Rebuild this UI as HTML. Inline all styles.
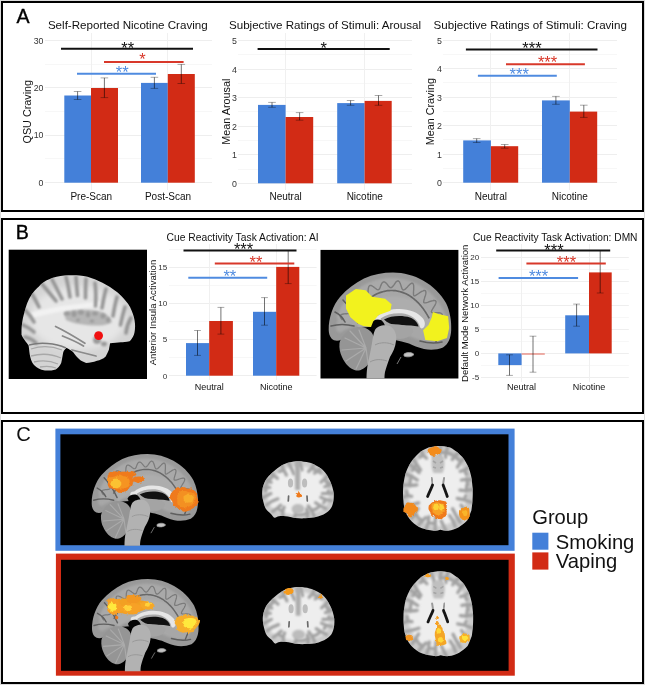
<!DOCTYPE html>
<html><head><meta charset="utf-8"><title>Figure</title>
<style>
html,body{margin:0;padding:0;background:#fff;}
body{width:645px;height:685px;overflow:hidden;}
svg{display:block;}
text{font-family:'Liberation Sans', Arial, sans-serif;}
</style></head><body>
<svg width="645" height="685" viewBox="0 0 645 685" font-family="'Liberation Sans', Arial, sans-serif"><defs>
<radialGradient id="hot" cx="0.45" cy="0.45" r="0.6"><stop offset="0" stop-color="#ffe23a"/><stop offset="0.55" stop-color="#ffb020"/><stop offset="1" stop-color="#f57a14"/></radialGradient>
<radialGradient id="hot2" cx="0.5" cy="0.5" r="0.6"><stop offset="0" stop-color="#ffdd30"/><stop offset="0.6" stop-color="#ffc020"/><stop offset="1" stop-color="#f59a18"/></radialGradient>
<filter id="bl04" x="-20%" y="-20%" width="140%" height="140%"><feGaussianBlur stdDeviation="0.4"/></filter>
<filter id="rough" x="-20%" y="-20%" width="140%" height="140%" color-interpolation-filters="sRGB"><feTurbulence type="fractalNoise" baseFrequency="0.45" numOctaves="2" seed="3" result="n"/><feDisplacementMap in="SourceGraphic" in2="n" scale="2.6" xChannelSelector="R" yChannelSelector="G" result="d"/><feGaussianBlur in="d" stdDeviation="0.35"/></filter>
<filter id="bl05" x="-20%" y="-20%" width="140%" height="140%"><feGaussianBlur stdDeviation="0.5"/></filter>
<filter id="bl07" x="-20%" y="-20%" width="140%" height="140%"><feGaussianBlur stdDeviation="0.7"/></filter>
<filter id="bl1" x="-20%" y="-20%" width="140%" height="140%"><feGaussianBlur stdDeviation="1"/></filter>
<filter id="bl15" x="-30%" y="-30%" width="160%" height="160%"><feGaussianBlur stdDeviation="1.5"/></filter>
<filter id="bl2" x="-30%" y="-30%" width="160%" height="160%"><feGaussianBlur stdDeviation="3"/></filter>

<clipPath id="medclip"><path d="M328.7,330 C328.5,318 333,305 340,297 C347,289 355,283 364,278.5 C373,274.5 383,272.6 393,272.6 C404,272.8 414,275.5 423,280.5 C433,286 441,294 446,303 C450,311 451.6,321 451.2,330 C450.8,338 448.5,344 443,347.5 C437,350 430,350.3 424,349 C418,347.5 413,345.5 409,343.5 C404,342 399,341 395,340 L390,334 C386,330 381,327.5 376,327 C369,326.5 362,327.5 356,329.5 C350,331.5 345,335 341.5,339.5 C338,341.5 334,341 331.5,338.5 C329.5,336 328.8,333 328.7,330 Z"/></clipPath>
<g id="med">
<path d="M328.7,330 C328.5,318 333,305 340,297 C347,289 355,283 364,278.5 C373,274.5 383,272.6 393,272.6 C404,272.8 414,275.5 423,280.5 C433,286 441,294 446,303 C450,311 451.6,321 451.2,330 C450.8,338 448.5,344 443,347.5 C437,350 430,350.3 424,349 C418,347.5 413,345.5 409,343.5 C404,342 399,341 395,340 L390,334 C386,330 381,327.5 376,327 C369,326.5 362,327.5 356,329.5 C350,331.5 345,335 341.5,339.5 C338,341.5 334,341 331.5,338.5 C329.5,336 328.8,333 328.7,330 Z" fill="#999999"/>
<g clip-path="url(#medclip)">
<path d="M336,330 C337,314 346,299 360,290 C374,282 392,280 408,284 C424,289 436,299 441,313 C444,322 443,334 438,341 C430,343 421,341 414,338 C404,333 392,331 380,323 C366,322 352,325 340,333 Z" fill="#a7a7a7" filter="url(#bl1)"/>
<path d="M356,314 C364,303 377,297 392,296.5 C408,296.5 421,302 429,312 C433,318 434,325 432,331 C427,331 423,328 420,324 C412,316 400,313 388,314.5 C376,316 366,322 358,329 Z" fill="#adadad" filter="url(#bl1)"/>
<path d="M336.3,318.1 L337.4,315.2 L338.5,312.4 L339.8,309.7 L341.3,307.0 L342.9,304.4 L344.6,301.9 L346.4,299.5 L348.4,297.2 L350.5,295.0 L352.7,292.9 L355.0,290.9 L357.4,289.1 L359.9,287.4 L362.5,285.8 L365.2,284.3 L367.9,283.0 L370.7,281.9 L373.6,280.8 L376.5,280.0 L379.4,279.3 L382.4,278.7 L385.4,278.3 L388.5,278.1 L391.5,278.0 L394.5,278.1 L397.6,278.3 L400.6,278.7 L403.6,279.3 L406.5,280.0 L409.4,280.8 L412.3,281.9 L415.1,283.0 L417.8,284.3 L420.5,285.8 L423.1,287.4 L425.6,289.1 L428.0,290.9 L430.3,292.9 L432.5,295.0 L434.6,297.2 L436.6,299.5 L438.4,301.9 L440.1,304.4 L441.7,307.0 L443.2,309.7 L444.5,312.4 L445.6,315.2 L446.7,318.1 L434.3,322.1 L433.5,319.9 L432.6,317.7 L431.6,315.6 L430.5,313.5 L429.2,311.5 L427.9,309.5 L426.5,307.7 L424.9,305.9 L423.3,304.2 L421.6,302.6 L419.8,301.0 L418.0,299.6 L416.0,298.3 L414.0,297.0 L411.9,295.9 L409.8,294.9 L407.6,294.0 L405.4,293.2 L403.1,292.5 L400.9,292.0 L398.5,291.6 L396.2,291.2 L393.9,291.1 L391.5,291.0 L389.1,291.1 L386.8,291.2 L384.5,291.6 L382.1,292.0 L379.9,292.5 L377.6,293.2 L375.4,294.0 L373.2,294.9 L371.1,295.9 L369.0,297.0 L367.0,298.3 L365.0,299.6 L363.2,301.0 L361.4,302.6 L359.7,304.2 L358.1,305.9 L356.5,307.7 L355.1,309.5 L353.8,311.5 L352.5,313.5 L351.4,315.6 L350.4,317.7 L349.5,319.9 L348.7,322.1 Z" fill="#a9a9a9" filter="url(#bl1)"/>
<path d="M342.5,320.1 L342.0,319.4 L341.4,318.8 L341.0,318.1 L340.6,317.5 L340.3,316.9 L340.2,316.3 L340.3,315.8 L340.4,315.4 L340.8,315.0 L341.2,314.7 L341.8,314.4 L342.5,314.2 L343.3,314.0 L344.1,313.9 L345.0,313.8 L345.9,313.8 L346.7,313.7 L347.5,313.6 L348.2,313.5 L348.8,313.3 L349.2,313.1 L349.6,312.8 L349.8,312.4 L349.9,312.0 L349.8,311.4 L349.6,310.8 L349.4,310.2 L349.1,309.5 L348.7,308.7 L348.3,308.0 L348.0,307.2 L347.7,306.5 L347.5,305.7 L347.3,305.1 L347.3,304.5 L347.3,303.9 L347.5,303.4 L347.8,303.1 L348.2,302.8 L348.7,302.6 L349.3,302.4 L350.0,302.4 L350.7,302.4 L351.5,302.5 L352.3,302.6 L353.1,302.7 L353.9,302.8 L354.7,302.8 L355.3,302.8 L355.9,302.8 L356.4,302.7 L356.8,302.5 L357.1,302.2 L357.3,301.8 L357.4,301.3 L357.4,300.7 L357.4,300.0 L357.3,299.3 L357.2,298.5 L357.0,297.7 L356.8,296.8 L356.6,295.9 L356.5,295.1 L356.5,294.3 L356.5,293.6 L356.7,293.0 L357.0,292.6 L357.4,292.3 L357.8,292.1 L358.4,292.1 L359.1,292.2 L359.9,292.4 L360.7,292.8 L361.5,293.1 L362.3,293.6 L363.2,294.0 L364.0,294.4 L364.7,294.8 L365.4,295.1 L366.0,295.3 L366.6,295.3 L367.0,295.3 L367.4,295.0 L367.6,294.7 L367.8,294.2 L368.0,293.6 L368.0,292.8 L368.1,292.0 L368.1,291.1 L368.1,290.1 L368.2,289.3 L368.3,288.5 L368.5,287.7 L368.7,287.0 L368.9,286.5 L369.2,286.0 L369.6,285.7 L370.1,285.5 L370.6,285.4 L371.1,285.5 L371.7,285.7 L372.3,286.1 L373.0,286.5 L373.6,286.9 L374.3,287.5 L375.0,288.0 L375.6,288.5 L376.2,288.9 L376.8,289.3 L377.3,289.6 L377.8,289.7 L378.2,289.7 L378.6,289.6 L379.0,289.4 L379.3,289.0 L379.7,288.5 L379.9,287.9 L380.2,287.2 L380.5,286.4 L380.8,285.6 L381.1,284.9 L381.4,284.2 L381.8,283.5 L382.1,283.0 L382.5,282.5 L383.0,282.2 L383.4,282.0 L383.9,281.9 L384.4,282.0 L384.9,282.2 L385.4,282.5 L385.9,282.9 L386.4,283.5 L387.0,284.0 L387.5,284.7 L388.0,285.3 L388.4,285.9 L388.9,286.4 L389.4,286.9 L389.8,287.3 L390.2,287.5 L390.7,287.7 L391.1,287.7 L391.5,287.5 L391.9,287.2 L392.4,286.9 L392.8,286.4 L393.3,285.8 L393.7,285.2 L394.2,284.6 L394.7,283.8 L395.2,283.0 L395.7,282.3 L396.2,281.7 L396.8,281.3 L397.3,281.0 L397.8,280.9 L398.3,280.9 L398.7,281.2 L399.2,281.6 L399.6,282.1 L399.9,282.8 L400.3,283.6 L400.6,284.5 L400.9,285.4 L401.2,286.3 L401.4,287.1 L401.7,287.9 L402.0,288.6 L402.3,289.2 L402.6,289.6 L403.0,289.9 L403.4,290.0 L403.8,289.9 L404.3,289.7 L404.9,289.4 L405.5,288.9 L406.1,288.3 L406.7,287.7 L407.4,287.0 L408.2,286.1 L409.0,285.3 L409.7,284.5 L410.5,283.9 L411.1,283.5 L411.8,283.2 L412.3,283.2 L412.8,283.4 L413.1,283.8 L413.4,284.4 L413.6,285.2 L413.7,286.1 L413.7,287.2 L413.7,288.3 L413.7,289.5 L413.6,290.7 L413.5,291.8 L413.5,292.9 L413.5,293.8 L413.5,294.6 L413.7,295.2 L413.9,295.6 L414.3,295.8 L414.7,295.8 L415.3,295.6 L416.0,295.2 L416.8,294.7 L417.6,294.2 L418.6,293.5 L419.5,292.8 L420.5,292.2 L421.4,291.6 L422.3,291.1 L423.2,290.8 L423.9,290.5 L424.6,290.5 L425.1,290.6 L425.5,290.9 L425.7,291.4 L425.9,292.0 L425.9,292.8 L425.8,293.7 L425.6,294.7 L425.3,295.8 L424.9,296.8 L424.6,297.9 L424.3,299.0 L424.0,299.9 L423.8,300.8 L423.7,301.5 L423.7,302.1 L423.8,302.5 L424.1,302.8 L424.6,302.9 L425.1,302.9 L425.9,302.8 L426.7,302.6 L427.7,302.3 L428.7,301.9 L429.8,301.5 L430.8,301.2 L431.9,300.9 L432.9,300.7 L433.7,300.5 L434.5,300.5 L435.2,300.6 L435.6,300.9 L435.9,301.3 L436.1,301.8 L436.0,302.4 L435.8,303.2 L435.5,304.0 L435.1,304.9 L434.5,305.9 L433.9,306.8 L433.3,307.8 L432.8,308.7 L432.3,309.5 L431.9,310.3 L431.6,311.0 L431.4,311.5 L431.5,312.0 L431.7,312.3 L432.1,312.6 L432.6,312.7 L433.3,312.8 L434.2,312.8 L435.2,312.8 L436.3,312.7 L437.4,312.6 L438.3,312.7 L439.1,312.8 L439.9,312.9 L440.6,313.1 L441.2,313.4 L441.6,313.7 L442.0,314.1 L442.2,314.5 L442.2,315.0 L442.1,315.6" stroke="#7b7b7b" stroke-width="1.4" fill="none" stroke-linejoin="round" filter="url(#bl07)"/>
<path d="M353.8,318.4 L354.5,317.1 L355.2,315.9 L355.9,314.6 L356.7,313.4 L357.4,312.2 L358.3,310.9 L359.1,309.7 L359.9,308.6 L360.8,307.4 L361.7,306.2 L362.7,305.1 L363.7,304.0 L364.7,302.9 L365.8,301.8 L366.8,300.8 L368.0,299.8 L369.1,298.8 L370.4,297.9 L371.6,297.0 L372.9,296.1 L374.2,295.3 L375.6,294.5 L377.0,293.8 L378.4,293.2 L379.9,292.6 L381.4,292.1 L382.9,291.7 L384.4,291.3 L386.0,291.0 L387.5,290.7 L389.1,290.6 L390.7,290.5 L392.3,290.5 L393.9,290.6 L395.5,290.7 L397.0,291.0 L398.6,291.3 L400.1,291.7 L401.6,292.1 L403.1,292.6 L404.6,293.2 L406.0,293.8 L407.4,294.5 L408.8,295.3 L410.1,296.1 L411.4,297.0 L412.6,297.9 L413.9,298.8 L415.0,299.8 L416.2,300.8 L417.2,301.8 L418.3,302.9 L419.3,304.0 L420.3,305.1 L421.3,306.2 L422.2,307.4 L423.1,308.6 L423.9,309.7 L424.7,310.9 L425.6,312.2 L426.3,313.4 L427.1,314.6 L427.8,315.9 L428.5,317.1 L429.2,318.4" stroke="#676767" stroke-width="1.7" fill="none" filter="url(#bl05)"/>
<g stroke="#5e5e5e" stroke-width="1.6" fill="none" stroke-linecap="round" filter="url(#bl07)">
<path d="M343,300 C349,306 354,314 358,323"/>
<path d="M331,326 C338,324 346,324 354,326"/>
<path d="M335,312 C339,314 343,318 345,322"/>
<path d="M446,326 C441,330 438,336 436,342"/>
<path d="M420,341 C427,343 434,344 442,342"/>
</g>
<ellipse cx="377" cy="319" rx="3.8" ry="3.2" fill="#e4e4e4" filter="url(#bl04)"/>
<path d="M374,321 C378,313.5 387,309.5 397,309 C408,308.5 418,312 423,318.5 C425.5,322 425.5,326 423,328 C421.5,329 420,328 419.8,326.5 C419,322 414,316 405,313.8 C396,312.5 387,314 380.5,318.5 C378,320.5 376,322 374,321 Z" fill="#e6e6e6" filter="url(#bl04)"/>
<path d="M384,319.5 C391,315.5 402,315 410,317.5 C415,319.5 418,323 418.5,326.5 C412,325.5 405,325 398,325.5 C392,325 387,322.5 384,319.5 Z" fill="#111"/>
<path d="M384,326 C390,323 404,324 412,328 C416,332 410,338 400,339 C392,339 386,335 384,330 Z" fill="#a4a4a4" filter="url(#bl07)"/>
</g>
<path d="M370,324 C372,320 377,318.5 381,320 C384.5,322.5 386,327 385,331.5 L376,332 C373,330 371,327 370,324 Z" fill="#050505"/>
<path d="M339.5,343 C341,336 348,329 357.5,327 C365,326.5 371,330 373,335 C375,343 374,355 369,363 C365,369 360,371 356,370.5 C350,369 345,364 342,357 C340,353 339,348 339.5,343 Z" fill="#959595"/>
<g stroke="#ababab" stroke-width="1.2" fill="none" stroke-linecap="round" filter="url(#bl05)">
<path d="M366,348 L345,338 M366,348 L342,350 M366,348 L346,361 M366,348 L356,369 M366,348 L368,363 M366,348 L359,330 M366,348 L350,331"/>
</g>
<path d="M375,330 C377,326 384,324 390,326 C395,329 397,335 396,341 C395.5,347 393,352 390,357 C388,362 386,368 385,372 C384.5,375 384.5,377 384.5,378.5 L366.5,378.5 C366.5,373 367,368 368,363 C369.5,356 371,349 372,343 C372.8,338 373.5,333 375,330 Z" fill="#b2b2b2"/>
<path d="M375,345 C380,342 388,342 394,345 M370,362 C375,359 381,359 387,361" stroke="#959595" stroke-width="1" fill="none" filter="url(#bl05)"/>
<path d="M404,354 C407,352 412,352 414,354.5 C412,357 407,357.5 404,356 Z M401,357 L397,364" fill="#c4c4c4" stroke="#999" stroke-width="0.8"/>
</g>
<clipPath id="corclip"><path d="M298.5,461.3 C301.8,461.3 306.1,461.9 309.0,462.6 C311.9,463.3 313.5,464.1 316.0,465.5 C318.5,466.9 321.5,468.3 323.8,470.9 C326.1,473.4 328.4,477.1 330.0,480.8 C331.6,484.5 333.3,489.2 333.7,493.2 C334.1,497.1 333.6,501.4 332.6,504.5 C331.7,507.6 330.4,509.5 328.0,511.5 C325.6,513.5 321.8,515.5 318.0,516.6 C314.2,517.7 308.8,518.1 305.0,518.3 C301.2,518.5 298.4,518.3 295.2,518.0 C292.0,517.7 288.4,516.6 285.7,516.3 C283.0,516.0 280.9,516.0 279.0,516.3 C277.1,516.5 275.8,518.2 274.5,517.8 C273.2,517.4 272.5,515.6 271.0,514.0 C269.5,512.4 266.9,511.3 265.4,508.1 C263.9,504.9 262.5,498.9 262.2,495.0 C261.9,491.1 262.6,487.9 263.5,485.0 C264.4,482.1 265.7,479.9 267.5,477.5 C269.3,475.1 271.8,472.9 274.1,470.9 C276.4,468.9 279.0,466.9 281.5,465.5 C284.0,464.1 286.2,463.1 289.0,462.4 C291.8,461.7 295.2,461.3 298.5,461.3 Z"/></clipPath>
<g id="cor">
<path d="M298.5,461.3 C301.8,461.3 306.1,461.9 309.0,462.6 C311.9,463.3 313.5,464.1 316.0,465.5 C318.5,466.9 321.5,468.3 323.8,470.9 C326.1,473.4 328.4,477.1 330.0,480.8 C331.6,484.5 333.3,489.2 333.7,493.2 C334.1,497.1 333.6,501.4 332.6,504.5 C331.7,507.6 330.4,509.5 328.0,511.5 C325.6,513.5 321.8,515.5 318.0,516.6 C314.2,517.7 308.8,518.1 305.0,518.3 C301.2,518.5 298.4,518.3 295.2,518.0 C292.0,517.7 288.4,516.6 285.7,516.3 C283.0,516.0 280.9,516.0 279.0,516.3 C277.1,516.5 275.8,518.2 274.5,517.8 C273.2,517.4 272.5,515.6 271.0,514.0 C269.5,512.4 266.9,511.3 265.4,508.1 C263.9,504.9 262.5,498.9 262.2,495.0 C261.9,491.1 262.6,487.9 263.5,485.0 C264.4,482.1 265.7,479.9 267.5,477.5 C269.3,475.1 271.8,472.9 274.1,470.9 C276.4,468.9 279.0,466.9 281.5,465.5 C284.0,464.1 286.2,463.1 289.0,462.4 C291.8,461.7 295.2,461.3 298.5,461.3 Z" fill="#cbcbcb"/>
<g clip-path="url(#corclip)">
<path d="M298,466 C309,466.5 319,471 325,479 C330,487 330,498 326,505.5 C321,512 310,514.5 298,514.5 C286,514.5 275,512 270,505.5 C266,498 266,487 271,479 C277,471 287,466.5 298,466 Z" fill="#eeeeee" filter="url(#bl15)"/>
<path d="M333.9,492.8 Q327.6,493.3 322.3,493.5 M327.6,493.3 L328.4,490.9 M331.5,500.8 Q325.3,499.7 320.9,497.3 M325.3,499.7 L323.7,502.9 M325.9,508.7 Q319.9,505.9 315.6,502.8 M319.9,505.9 L315.8,509.3 M314.2,516.3 Q312.0,510.2 308.2,505.9 M312.0,510.2 L315.0,509.4 M307.2,518.5 Q308.5,512.9 306.4,509.3 M308.5,512.9 L303.0,514.5 M293.6,519.3 Q295.9,514.4 296.3,510.3 M295.9,514.4 L301.2,514.7 M283.1,517.1 Q281.9,510.9 284.1,507.1 M272.6,511.5 Q277.7,508.5 280.7,505.1 M277.7,508.5 L281.7,511.2 M266.3,505.2 Q271.7,500.7 277.9,498.8 M262.5,498.0 Q267.0,495.5 270.8,493.5 M261.2,487.4 Q266.1,486.6 269.7,487.5 M266.1,486.6 L265.5,491.0 M263.9,478.7 Q268.6,479.6 271.1,482.3 M268.6,479.6 L266.0,484.7 M269.0,471.7 Q274.0,475.0 277.4,478.4 M274.0,475.0 L270.4,478.3 M281.1,463.7 Q283.5,470.0 286.4,475.1 M283.5,470.0 L279.3,471.5 M287.7,461.6 Q291.6,468.1 293.9,473.9 M299.1,460.5 Q301.2,465.7 302.0,469.9 M301.2,465.7 L297.6,465.2 M314.2,463.7 Q312.0,468.4 308.6,471.5 M312.0,468.4 L314.9,469.2 M321.5,467.7 Q318.0,471.0 314.5,473.2 M318.0,471.0 L320.8,472.6 M328.8,474.7 Q324.6,478.9 321.0,482.1 M324.6,478.9 L327.6,483.5 M332.9,482.6 Q328.7,486.0 324.8,486.8 M328.7,486.0 L328.0,482.3" stroke="#a2a2a2" stroke-width="3.2" fill="none" stroke-linecap="round" filter="url(#bl1)"/>
<path d="M294.8,461 L300.4,461 L300,490 L295.2,490 Z" fill="#adadad" filter="url(#bl1)"/>
<path d="M297.6,461 L297.6,487" stroke="#7e7e7e" stroke-width="1.1" filter="url(#bl05)"/>
<ellipse cx="290.5" cy="483" rx="2.6" ry="4.5" fill="#bdbdbd" filter="url(#bl07)"/>
<ellipse cx="304.6" cy="483" rx="2.6" ry="4.5" fill="#bdbdbd" filter="url(#bl07)"/>
<ellipse cx="298" cy="509" rx="6.5" ry="5" fill="#bcbcbc" filter="url(#bl1)"/>
<path d="M288.6,496 L288.3,501 M307,496 L307.3,501" stroke="#6a6a6a" stroke-width="1.7" stroke-linecap="round" filter="url(#bl05)"/>
</g>
</g>
<clipPath id="axclip"><path d="M440.3,445.9 C446,446.3 450,447 452.1,448.5 C456,451 459,453.5 462.1,456.8 C465,460.5 467.5,464.5 468.9,468.6 C470.8,473.5 471.8,478.5 472.2,483.7 C472.8,488 472.9,493 472.7,497.1 C472.5,502 472,506.5 471.4,510.5 C470,514 469,517 467.2,520.6 C464.5,523.5 461.5,525.5 458.8,527.3 C455,529.3 452,530.3 448.7,530.7 C446,530.9 443,530.6 440.3,529.8 C438,530.6 436,531 433.6,530.7 C429,530.2 425.5,529.4 421.9,528.2 C418,526.5 414.5,524.2 411.8,521.4 C409,518.5 407,515.5 405.9,512.2 C404.3,508.5 403.6,504.5 403.4,500.5 C403,496.5 402.9,492.5 403.1,488.7 C403.5,484 404,479.5 405.1,475.3 C406.3,470.8 408,467 410.1,463.6 C412.5,459.8 415.3,456.5 418.5,453.5 C421.5,450.8 424.8,449 428.6,447.6 C432,446.5 436,445.9 440.3,445.9 Z"/></clipPath>
<g id="ax">
<path d="M440.3,445.9 C446,446.3 450,447 452.1,448.5 C456,451 459,453.5 462.1,456.8 C465,460.5 467.5,464.5 468.9,468.6 C470.8,473.5 471.8,478.5 472.2,483.7 C472.8,488 472.9,493 472.7,497.1 C472.5,502 472,506.5 471.4,510.5 C470,514 469,517 467.2,520.6 C464.5,523.5 461.5,525.5 458.8,527.3 C455,529.3 452,530.3 448.7,530.7 C446,530.9 443,530.6 440.3,529.8 C438,530.6 436,531 433.6,530.7 C429,530.2 425.5,529.4 421.9,528.2 C418,526.5 414.5,524.2 411.8,521.4 C409,518.5 407,515.5 405.9,512.2 C404.3,508.5 403.6,504.5 403.4,500.5 C403,496.5 402.9,492.5 403.1,488.7 C403.5,484 404,479.5 405.1,475.3 C406.3,470.8 408,467 410.1,463.6 C412.5,459.8 415.3,456.5 418.5,453.5 C421.5,450.8 424.8,449 428.6,447.6 C432,446.5 436,445.9 440.3,445.9 Z" fill="#cbcbcb"/>
<g clip-path="url(#axclip)">
<ellipse cx="437.8" cy="488.5" rx="30" ry="37.5" fill="#eeeeee" filter="url(#bl15)"/>
<path d="M473.8,489.2 Q466.3,491.4 460.0,490.2 M466.3,491.4 L466.9,484.8 M471.8,502.5 Q464.4,499.2 457.3,498.5 M464.4,499.2 L465.9,495.7 M467.5,513.0 Q463.6,509.3 461.1,505.1 M460.3,522.2 Q455.7,515.7 452.6,508.8 M455.1,526.4 Q453.3,519.7 449.6,515.5 M446.0,530.7 Q443.1,525.4 441.2,520.9 M435.3,531.7 Q434.9,523.5 435.6,516.4 M434.9,523.5 L430.3,523.2 M426.0,529.4 Q428.6,523.0 428.9,516.6 M418.5,525.0 Q422.3,520.9 425.6,517.6 M422.3,520.9 L419.0,518.7 M411.8,518.4 Q415.0,512.7 418.2,508.5 M415.0,512.7 L417.2,516.4 M405.0,506.3 Q412.5,504.9 418.6,502.9 M402.6,497.6 Q407.3,495.2 411.6,496.3 M407.3,495.2 L406.5,491.2 M401.9,484.5 Q409.8,486.1 416.8,484.9 M409.8,486.1 L410.2,478.3 M404.1,473.1 Q411.5,475.6 417.3,480.1 M411.5,475.6 L409.2,483.7 M408.5,463.0 Q414.1,468.3 419.1,472.6 M412.2,457.7 Q416.6,464.1 420.5,469.9 M416.6,464.1 L412.3,470.4 M420.6,450.1 Q422.6,455.4 426.5,458.3 M422.6,455.4 L420.0,456.9 M429.9,445.9 Q433.2,452.3 434.5,458.3 M441.0,445.0 Q439.2,452.1 439.9,458.5 M439.2,452.1 L445.2,452.6 M448.0,446.6 Q445.2,451.9 445.5,457.3 M445.2,451.9 L451.7,454.4 M458.6,452.8 Q454.0,455.6 452.3,459.5 M454.0,455.6 L458.7,459.5 M463.7,458.1 Q460.0,462.6 457.4,467.1 M469.1,466.9 Q464.8,470.6 460.2,471.3 M464.8,470.6 L466.6,474.3 M473.1,479.6 Q466.6,478.8 461.5,480.0 M466.6,478.8 L467.9,484.4" stroke="#a2a2a2" stroke-width="3.3" fill="none" stroke-linecap="round" filter="url(#bl1)"/>
<path d="M432,458 C434,455 436,454.5 438,454.5 C440,454.5 442,455 444,458 C445,463 444.5,469 442.5,473 L433.5,473 C431.5,469 431,463 432,458 Z" fill="#c0c0c0" filter="url(#bl1)"/><path d="M433,461 L436,463 M443,461 L440,463 M433,467 L436,468 M443,467 L440,468" stroke="#a5a5a5" stroke-width="1.6" filter="url(#bl05)"/>
<path d="M437.9,446 L437.9,473" stroke="#858585" stroke-width="1.3" filter="url(#bl05)"/>
<path d="M437.9,518 L437.9,531" stroke="#8a8a8a" stroke-width="1.6" filter="url(#bl05)"/>
<path d="M431.7,478 C432.3,481 432.6,484 432.6,486" stroke="#9a9a9a" stroke-width="2" fill="none" stroke-linecap="round" filter="url(#bl05)"/>
<path d="M444.1,478 C443.5,481 443.1,484 443.1,486" stroke="#9a9a9a" stroke-width="2" fill="none" stroke-linecap="round" filter="url(#bl05)"/>
<path d="M432.6,485 C431,489 429,493 427.6,496.5 M443.1,485 C444.6,489 446.2,493 447.3,496.5" stroke="#151515" stroke-width="2.8" fill="none" stroke-linecap="round" filter="url(#bl04)"/>
</g>
</g>
<clipPath id="latclip"><path id="latpath" d="M21.5,330.3 C22,322 23,317 24.3,313 C26,306 27.5,302 29.7,297.8 C33,292 35,290 38.4,286.9 C42,283 45,281 49.2,279.3 C54,277 59,276 64.4,275.6 C70,275.3 75,275.3 79.6,275.6 C85,276 90,277.5 94.8,279.3 C100,281.5 105,284 110,286.9 C116,291 120,294 123,297.8 C127,302 130,306 131.7,310.8 C133.5,315 134.6,319 135,323.8 C135.3,328 134.8,332 133.9,334.7 C132.5,338 131,340 129.6,341.2 C126,342 123,342.2 120.9,342.2 L110,343.3 C109.5,346 109.3,348 108.9,349.8 C108,352 107,354 105.7,356.4 C103,359 100,360 97,360.7 C93,362 90,362.8 86.1,362.9 C83,362 81,361 79.6,359.6 C77,357 75,355 73.1,352 C71,350 69,349 66.6,347.7 C65,349 64,350 63.3,352 C62.5,356 62,360 61.2,362.9 C59.5,366 58,368 55.8,369.4 C52,370.5 48,370.8 44.9,370.5 C40,369.5 37,368 34,365 C31.5,362 30.3,358 29.7,354.2 C29.2,351 29,348 28.6,345.5 C27.5,344 26.5,342.5 25.4,341.2 C23.5,338.5 22.3,336.5 21.5,334.7 Z"/></clipPath>
<g id="lat">
<use href="#latpath" fill="#d4d4d4"/>
<g clip-path="url(#latclip)">
<ellipse cx="78" cy="318" rx="48" ry="32" fill="#e6e6e6" filter="url(#bl2)"/>
<path d="M30,313 C45,309 58,306 70,305 C82,304 92,302 100,301 L102,306 C92,307 82,309 70,310 C56,312 44,315 32,318 Z" fill="#f2f2f2" filter="url(#bl1)"/>
<g stroke="#959595" stroke-width="3.6" fill="none" stroke-linecap="round" filter="url(#bl1)">
<path d="M42,284 C47,290 52,296 56,301"/>
<path d="M52,279.5 C56,287 59,293 62,299"/>
<path d="M66,277 C68,284 69,291 70,297"/>
<path d="M76,277 C76.5,284 77,290 77.5,295.5"/>
<path d="M86,279 C85.5,286 85.5,292 85.5,298"/>
<path d="M95,283 C96,290 96,298 95.5,306"/>
<path d="M106,289 C104,296 103,302 102,308"/>
<path d="M117,297 C115,304 114,310 113,316"/>
<path d="M125,307 C123,314 121.5,320 120.5,325"/>
<path d="M131,318 C128,323 126.5,328 126,333"/>
<path d="M32,294 C35,299 37,303 39,307"/>
<path d="M25,310 C29,314 32,318 34,322"/>
<path d="M23,325 C27,327 31,329 34,332"/>
<path d="M25,337 C29,338 33,340 36,343"/>
</g>

<path d="M64,313 C72,309 86,309 98,311 C106,313 111,317 112,322 C108,325 100,326 92,325.5 C82,325 72,323 66,320 Z" fill="#b6b6b6" filter="url(#bl1)"/>
<g fill="#9a9a9a" filter="url(#bl1)">
<ellipse cx="67" cy="313.5" rx="3" ry="2"/><ellipse cx="74" cy="314" rx="2.5" ry="3"/><ellipse cx="81" cy="312.5" rx="3" ry="2.2"/>
<ellipse cx="88" cy="314.5" rx="2.2" ry="3"/><ellipse cx="95" cy="313.5" rx="3" ry="2"/><ellipse cx="103" cy="316" rx="2.6" ry="2.6"/>
<ellipse cx="108" cy="320" rx="2.2" ry="2.4"/><ellipse cx="78" cy="320" rx="2" ry="1.6"/><ellipse cx="92" cy="321" rx="2.4" ry="1.6"/>
<ellipse cx="97" cy="340" rx="4" ry="4"/><ellipse cx="104" cy="344" rx="3" ry="2.4"/>
</g>
<g stroke="#8a8a8a" stroke-width="1.8" fill="none" stroke-linecap="round" filter="url(#bl07)">
<path d="M55.6,326.5 C65,331 75,337 84.9,343.2"/>
<path d="M62.5,336 C70,339 77,342 83.5,346"/>
<path d="M72,350 C80,352 88,354 96,356"/>
</g>
<g stroke="#a8a8a8" stroke-width="1.3" fill="none" filter="url(#bl05)">
<path d="M31,349 C40,346 52,346 62,350"/>
<path d="M31,356 C42,353 52,354 61,358"/>
<path d="M34,362 C43,360 51,361 58,364"/>
<path d="M40,367 C46,366 51,366 56,368"/>
</g>
<path d="M29,345 C40,342 55,343 66,348" stroke="#7a7a7a" stroke-width="1.5" fill="none" filter="url(#bl05)"/>
</g>
</g></defs><rect x="0.00" y="0.00" width="645.00" height="685.00" fill="#dcdcdc"/><rect x="1.00" y="1.00" width="643.00" height="683.00" fill="#ffffff"/><rect x="2" y="2" width="641" height="209" fill="#fff" stroke="#000" stroke-width="2"/><rect x="2" y="219" width="641" height="194" fill="#fff" stroke="#000" stroke-width="2"/><rect x="2" y="421" width="641" height="262" fill="#fff" stroke="#000" stroke-width="2"/><text x="16.4" y="23.2" font-size="19.6" text-anchor="start" fill="#000" stroke="#000" stroke-width="0.35">A</text><text x="15.7" y="239.0" font-size="19.6" text-anchor="start" fill="#000" stroke="#000" stroke-width="0.35">B</text><text x="16.2" y="441.2" font-size="20.2" text-anchor="start" fill="#111" >C</text><line x1="45.00" y1="158.50" x2="212.00" y2="158.50" stroke="#f7f7f7" stroke-width="1"/><line x1="45.00" y1="111.50" x2="212.00" y2="111.50" stroke="#f7f7f7" stroke-width="1"/><line x1="45.00" y1="64.50" x2="212.00" y2="64.50" stroke="#f7f7f7" stroke-width="1"/><line x1="45.00" y1="182.50" x2="212.00" y2="182.50" stroke="#eeeeee" stroke-width="1"/><line x1="45.00" y1="135.50" x2="212.00" y2="135.50" stroke="#eeeeee" stroke-width="1"/><line x1="45.00" y1="87.50" x2="212.00" y2="87.50" stroke="#eeeeee" stroke-width="1"/><line x1="45.00" y1="40.50" x2="212.00" y2="40.50" stroke="#eeeeee" stroke-width="1"/><line x1="91.50" y1="33.00" x2="91.50" y2="190.00" stroke="#f0f0f0" stroke-width="1"/><line x1="167.50" y1="33.00" x2="167.50" y2="190.00" stroke="#f0f0f0" stroke-width="1"/><rect x="64.30" y="95.50" width="26.70" height="87.20" fill="#4480d9"/><rect x="91.00" y="88.00" width="27.00" height="94.70" fill="#d22b15"/><rect x="141.00" y="82.90" width="26.80" height="99.80" fill="#4480d9"/><rect x="167.80" y="74.00" width="27.00" height="108.70" fill="#d22b15"/><g stroke="#000" stroke-opacity="0.62"><line x1="77.60" y1="91.50" x2="77.60" y2="99.50" stroke="#000" stroke-width="0.9"/><line x1="73.80" y1="91.50" x2="81.40" y2="91.50" stroke="#000" stroke-width="0.55"/><line x1="73.80" y1="99.50" x2="81.40" y2="99.50" stroke="#000" stroke-width="0.55"/></g><g stroke="#000" stroke-opacity="0.62"><line x1="104.40" y1="77.90" x2="104.40" y2="97.60" stroke="#000" stroke-width="0.9"/><line x1="100.60" y1="77.90" x2="108.20" y2="77.90" stroke="#000" stroke-width="0.55"/><line x1="100.60" y1="97.60" x2="108.20" y2="97.60" stroke="#000" stroke-width="0.55"/></g><g stroke="#000" stroke-opacity="0.62"><line x1="154.40" y1="77.30" x2="154.40" y2="88.40" stroke="#000" stroke-width="0.9"/><line x1="150.60" y1="77.30" x2="158.20" y2="77.30" stroke="#000" stroke-width="0.55"/><line x1="150.60" y1="88.40" x2="158.20" y2="88.40" stroke="#000" stroke-width="0.55"/></g><g stroke="#000" stroke-opacity="0.62"><line x1="181.30" y1="64.40" x2="181.30" y2="83.50" stroke="#000" stroke-width="0.9"/><line x1="177.50" y1="64.40" x2="185.10" y2="64.40" stroke="#000" stroke-width="0.55"/><line x1="177.50" y1="83.50" x2="185.10" y2="83.50" stroke="#000" stroke-width="0.55"/></g><line x1="61.00" y1="48.80" x2="193.00" y2="48.80" stroke="#111" stroke-width="2"/><text x="127.7" y="53.68" font-size="16.5" text-anchor="middle" fill="#111" >**</text><line x1="104.00" y1="61.90" x2="183.60" y2="61.90" stroke="#d8382a" stroke-width="2"/><text x="142.5" y="65.38" font-size="16.5" text-anchor="middle" fill="#d8382a" >*</text><line x1="77.00" y1="73.70" x2="156.00" y2="73.70" stroke="#4f8be0" stroke-width="2"/><text x="122.2" y="78.18" font-size="16.5" text-anchor="middle" fill="#4f8be0" >**</text><text x="43.5" y="185.89999999999998" font-size="8.8" text-anchor="end" fill="#333" >0</text><text x="43.5" y="138.45" font-size="8.8" text-anchor="end" fill="#333" >10</text><text x="43.5" y="90.99999999999999" font-size="8.8" text-anchor="end" fill="#333" >20</text><text x="43.5" y="43.55" font-size="8.8" text-anchor="end" fill="#333" >30</text><text x="91.3" y="199.7" font-size="10" text-anchor="middle" fill="#111" >Pre-Scan</text><text x="168" y="199.7" font-size="10" text-anchor="middle" fill="#111" >Post-Scan</text><text transform="translate(30.9,111.7) rotate(-90)" font-size="10.8" text-anchor="middle" fill="#111">QSU Craving</text><text x="127.8" y="28.8" font-size="11.6" text-anchor="middle" fill="#111" >Self-Reported Nicotine Craving</text><line x1="238.00" y1="169.50" x2="412.00" y2="169.50" stroke="#f7f7f7" stroke-width="1"/><line x1="238.00" y1="140.50" x2="412.00" y2="140.50" stroke="#f7f7f7" stroke-width="1"/><line x1="238.00" y1="111.50" x2="412.00" y2="111.50" stroke="#f7f7f7" stroke-width="1"/><line x1="238.00" y1="83.50" x2="412.00" y2="83.50" stroke="#f7f7f7" stroke-width="1"/><line x1="238.00" y1="54.50" x2="412.00" y2="54.50" stroke="#f7f7f7" stroke-width="1"/><line x1="238.00" y1="183.50" x2="412.00" y2="183.50" stroke="#eeeeee" stroke-width="1"/><line x1="238.00" y1="154.50" x2="412.00" y2="154.50" stroke="#eeeeee" stroke-width="1"/><line x1="238.00" y1="126.50" x2="412.00" y2="126.50" stroke="#eeeeee" stroke-width="1"/><line x1="238.00" y1="97.50" x2="412.00" y2="97.50" stroke="#eeeeee" stroke-width="1"/><line x1="238.00" y1="69.50" x2="412.00" y2="69.50" stroke="#eeeeee" stroke-width="1"/><line x1="238.00" y1="40.50" x2="412.00" y2="40.50" stroke="#eeeeee" stroke-width="1"/><line x1="285.50" y1="33.00" x2="285.50" y2="190.00" stroke="#f0f0f0" stroke-width="1"/><line x1="364.50" y1="33.00" x2="364.50" y2="190.00" stroke="#f0f0f0" stroke-width="1"/><rect x="258.00" y="104.90" width="27.60" height="78.40" fill="#4480d9"/><rect x="285.60" y="117.00" width="27.60" height="66.30" fill="#d22b15"/><rect x="337.20" y="103.10" width="27.40" height="80.20" fill="#4480d9"/><rect x="364.60" y="100.90" width="27.10" height="82.40" fill="#d22b15"/><g stroke="#000" stroke-opacity="0.62"><line x1="272.00" y1="102.40" x2="272.00" y2="107.30" stroke="#000" stroke-width="0.9"/><line x1="268.20" y1="102.40" x2="275.80" y2="102.40" stroke="#000" stroke-width="0.55"/><line x1="268.20" y1="107.30" x2="275.80" y2="107.30" stroke="#000" stroke-width="0.55"/></g><g stroke="#000" stroke-opacity="0.62"><line x1="299.60" y1="112.60" x2="299.60" y2="120.20" stroke="#000" stroke-width="0.9"/><line x1="295.80" y1="112.60" x2="303.40" y2="112.60" stroke="#000" stroke-width="0.55"/><line x1="295.80" y1="120.20" x2="303.40" y2="120.20" stroke="#000" stroke-width="0.55"/></g><g stroke="#000" stroke-opacity="0.62"><line x1="350.60" y1="100.50" x2="350.60" y2="105.30" stroke="#000" stroke-width="0.9"/><line x1="346.80" y1="100.50" x2="354.40" y2="100.50" stroke="#000" stroke-width="0.55"/><line x1="346.80" y1="105.30" x2="354.40" y2="105.30" stroke="#000" stroke-width="0.55"/></g><g stroke="#000" stroke-opacity="0.62"><line x1="378.50" y1="95.50" x2="378.50" y2="105.30" stroke="#000" stroke-width="0.9"/><line x1="374.70" y1="95.50" x2="382.30" y2="95.50" stroke="#000" stroke-width="0.55"/><line x1="374.70" y1="105.30" x2="382.30" y2="105.30" stroke="#000" stroke-width="0.55"/></g><line x1="257.60" y1="49.00" x2="389.70" y2="49.00" stroke="#111" stroke-width="2"/><text x="323.8" y="53.68" font-size="16.5" text-anchor="middle" fill="#111" >*</text><text x="236.8" y="186.9" font-size="8.8" text-anchor="end" fill="#333" >0</text><text x="236.8" y="158.34" font-size="8.8" text-anchor="end" fill="#333" >1</text><text x="236.8" y="129.78" font-size="8.8" text-anchor="end" fill="#333" >2</text><text x="236.8" y="101.22000000000001" font-size="8.8" text-anchor="end" fill="#333" >3</text><text x="236.8" y="72.66000000000001" font-size="8.8" text-anchor="end" fill="#333" >4</text><text x="236.8" y="44.10000000000003" font-size="8.8" text-anchor="end" fill="#333" >5</text><text x="285.6" y="199.7" font-size="10" text-anchor="middle" fill="#111" >Neutral</text><text x="364.7" y="199.7" font-size="10" text-anchor="middle" fill="#111" >Nicotine</text><text transform="translate(229.6,111.7) rotate(-90)" font-size="10.8" text-anchor="middle" fill="#111">Mean Arousal</text><text x="325" y="28.8" font-size="11.6" text-anchor="middle" fill="#111" >Subjective Ratings of Stimuli: Arousal</text><line x1="443.00" y1="168.50" x2="617.00" y2="168.50" stroke="#f7f7f7" stroke-width="1"/><line x1="443.00" y1="139.50" x2="617.00" y2="139.50" stroke="#f7f7f7" stroke-width="1"/><line x1="443.00" y1="111.50" x2="617.00" y2="111.50" stroke="#f7f7f7" stroke-width="1"/><line x1="443.00" y1="82.50" x2="617.00" y2="82.50" stroke="#f7f7f7" stroke-width="1"/><line x1="443.00" y1="54.50" x2="617.00" y2="54.50" stroke="#f7f7f7" stroke-width="1"/><line x1="443.00" y1="182.50" x2="617.00" y2="182.50" stroke="#eeeeee" stroke-width="1"/><line x1="443.00" y1="154.50" x2="617.00" y2="154.50" stroke="#eeeeee" stroke-width="1"/><line x1="443.00" y1="125.50" x2="617.00" y2="125.50" stroke="#eeeeee" stroke-width="1"/><line x1="443.00" y1="97.50" x2="617.00" y2="97.50" stroke="#eeeeee" stroke-width="1"/><line x1="443.00" y1="68.50" x2="617.00" y2="68.50" stroke="#eeeeee" stroke-width="1"/><line x1="443.00" y1="40.50" x2="617.00" y2="40.50" stroke="#eeeeee" stroke-width="1"/><line x1="490.50" y1="33.00" x2="490.50" y2="190.00" stroke="#f0f0f0" stroke-width="1"/><line x1="569.50" y1="33.00" x2="569.50" y2="190.00" stroke="#f0f0f0" stroke-width="1"/><rect x="463.20" y="140.40" width="27.70" height="42.30" fill="#4480d9"/><rect x="490.90" y="146.20" width="27.30" height="36.50" fill="#d22b15"/><rect x="542.00" y="100.40" width="27.80" height="82.30" fill="#4480d9"/><rect x="569.80" y="111.60" width="27.40" height="71.10" fill="#d22b15"/><g stroke="#000" stroke-opacity="0.62"><line x1="476.70" y1="138.60" x2="476.70" y2="142.50" stroke="#000" stroke-width="0.9"/><line x1="472.90" y1="138.60" x2="480.50" y2="138.60" stroke="#000" stroke-width="0.55"/><line x1="472.90" y1="142.50" x2="480.50" y2="142.50" stroke="#000" stroke-width="0.55"/></g><g stroke="#000" stroke-opacity="0.62"><line x1="504.70" y1="144.50" x2="504.70" y2="148.20" stroke="#000" stroke-width="0.9"/><line x1="500.90" y1="144.50" x2="508.50" y2="144.50" stroke="#000" stroke-width="0.55"/><line x1="500.90" y1="148.20" x2="508.50" y2="148.20" stroke="#000" stroke-width="0.55"/></g><g stroke="#000" stroke-opacity="0.62"><line x1="555.90" y1="96.40" x2="555.90" y2="104.30" stroke="#000" stroke-width="0.9"/><line x1="552.10" y1="96.40" x2="559.70" y2="96.40" stroke="#000" stroke-width="0.55"/><line x1="552.10" y1="104.30" x2="559.70" y2="104.30" stroke="#000" stroke-width="0.55"/></g><g stroke="#000" stroke-opacity="0.62"><line x1="583.80" y1="105.20" x2="583.80" y2="117.40" stroke="#000" stroke-width="0.9"/><line x1="580.00" y1="105.20" x2="587.60" y2="105.20" stroke="#000" stroke-width="0.55"/><line x1="580.00" y1="117.40" x2="587.60" y2="117.40" stroke="#000" stroke-width="0.55"/></g><line x1="465.90" y1="49.40" x2="597.50" y2="49.40" stroke="#111" stroke-width="2"/><text x="532" y="53.78" font-size="16.5" text-anchor="middle" fill="#111" >***</text><line x1="506.00" y1="64.20" x2="584.90" y2="64.20" stroke="#d8382a" stroke-width="2"/><text x="547.6" y="68.48" font-size="16.5" text-anchor="middle" fill="#d8382a" >***</text><line x1="477.90" y1="75.70" x2="556.80" y2="75.70" stroke="#4f8be0" stroke-width="2"/><text x="519.2" y="80.18" font-size="16.5" text-anchor="middle" fill="#4f8be0" >***</text><text x="442" y="186.29999999999998" font-size="8.8" text-anchor="end" fill="#333" >0</text><text x="442" y="157.79999999999998" font-size="8.8" text-anchor="end" fill="#333" >1</text><text x="442" y="129.29999999999998" font-size="8.8" text-anchor="end" fill="#333" >2</text><text x="442" y="100.79999999999998" font-size="8.8" text-anchor="end" fill="#333" >3</text><text x="442" y="72.29999999999998" font-size="8.8" text-anchor="end" fill="#333" >4</text><text x="442" y="43.79999999999999" font-size="8.8" text-anchor="end" fill="#333" >5</text><text x="490.8" y="199.7" font-size="10" text-anchor="middle" fill="#111" >Neutral</text><text x="569.8" y="199.7" font-size="10" text-anchor="middle" fill="#111" >Nicotine</text><text transform="translate(434.3,111.7) rotate(-90)" font-size="10.8" text-anchor="middle" fill="#111">Mean Craving</text><text x="530.2" y="28.8" font-size="11.6" text-anchor="middle" fill="#111" >Subjective Ratings of Stimuli: Craving</text><rect x="8.70" y="249.70" width="138.30" height="129.30" fill="#000"/><use href="#lat"/><circle cx="98.6" cy="335.6" r="4.4" fill="#f01010"/><rect x="320.50" y="249.90" width="137.90" height="128.60" fill="#000"/><use href="#med"/><path d="M346,295.6 L355.8,289 L365.6,290.2 L372.1,296.7 L385.1,298.8 L391.6,304.3 L390.5,310.8 L378.6,315.1 L373.2,321.6 L371,327.1 L363.4,326 L358,323.8 L350.4,317.3 L346,308.6 Z" fill="#f2f21e"/><path d="M432.9,311.9 L438.3,314 L448.1,316.2 L449.2,328.1 L447,337.9 L437.2,341.2 L425.3,340.1 L423.1,330.3 L428.5,324.9 L431.8,317.3 Z" fill="#f2f21e"/><line x1="169.00" y1="357.50" x2="316.60" y2="357.50" stroke="#f7f7f7" stroke-width="1"/><line x1="169.00" y1="321.50" x2="316.60" y2="321.50" stroke="#f7f7f7" stroke-width="1"/><line x1="169.00" y1="285.50" x2="316.60" y2="285.50" stroke="#f7f7f7" stroke-width="1"/><line x1="169.00" y1="249.50" x2="316.60" y2="249.50" stroke="#f7f7f7" stroke-width="1"/><line x1="169.00" y1="375.50" x2="316.60" y2="375.50" stroke="#eeeeee" stroke-width="1"/><line x1="169.00" y1="339.50" x2="316.60" y2="339.50" stroke="#eeeeee" stroke-width="1"/><line x1="169.00" y1="303.50" x2="316.60" y2="303.50" stroke="#eeeeee" stroke-width="1"/><line x1="169.00" y1="267.50" x2="316.60" y2="267.50" stroke="#eeeeee" stroke-width="1"/><line x1="209.50" y1="244.00" x2="209.50" y2="380.00" stroke="#f0f0f0" stroke-width="1"/><line x1="276.50" y1="244.00" x2="276.50" y2="380.00" stroke="#f0f0f0" stroke-width="1"/><rect x="186.00" y="343.10" width="23.20" height="32.60" fill="#4480d9"/><rect x="209.20" y="321.00" width="23.70" height="54.70" fill="#d22b15"/><rect x="253.00" y="311.80" width="23.20" height="63.90" fill="#4480d9"/><rect x="276.20" y="266.90" width="23.10" height="108.80" fill="#d22b15"/><g stroke="#000" stroke-opacity="0.62"><line x1="197.50" y1="330.50" x2="197.50" y2="355.40" stroke="#000" stroke-width="0.9"/><line x1="194.10" y1="330.50" x2="200.90" y2="330.50" stroke="#000" stroke-width="0.55"/><line x1="194.10" y1="355.40" x2="200.90" y2="355.40" stroke="#000" stroke-width="0.55"/></g><g stroke="#000" stroke-opacity="0.62"><line x1="220.90" y1="307.40" x2="220.90" y2="334.10" stroke="#000" stroke-width="0.9"/><line x1="217.50" y1="307.40" x2="224.30" y2="307.40" stroke="#000" stroke-width="0.55"/><line x1="217.50" y1="334.10" x2="224.30" y2="334.10" stroke="#000" stroke-width="0.55"/></g><g stroke="#000" stroke-opacity="0.62"><line x1="264.50" y1="297.60" x2="264.50" y2="325.20" stroke="#000" stroke-width="0.9"/><line x1="261.10" y1="297.60" x2="267.90" y2="297.60" stroke="#000" stroke-width="0.55"/><line x1="261.10" y1="325.20" x2="267.90" y2="325.20" stroke="#000" stroke-width="0.55"/></g><g stroke="#000" stroke-opacity="0.62"><line x1="288.20" y1="250.60" x2="288.20" y2="283.60" stroke="#000" stroke-width="0.9"/><line x1="284.80" y1="283.60" x2="291.60" y2="283.60" stroke="#000" stroke-width="0.55"/></g><line x1="183.50" y1="250.50" x2="296.50" y2="250.50" stroke="#111" stroke-width="2"/><text x="243.6" y="254.98" font-size="16.5" text-anchor="middle" fill="#111" >***</text><line x1="214.80" y1="263.50" x2="294.30" y2="263.50" stroke="#d8382a" stroke-width="2"/><text x="256" y="267.68" font-size="16.5" text-anchor="middle" fill="#d8382a" >**</text><line x1="188.30" y1="277.80" x2="267.20" y2="277.80" stroke="#4f8be0" stroke-width="2"/><text x="229.8" y="281.78" font-size="16.5" text-anchor="middle" fill="#4f8be0" >**</text><text x="167.2" y="378.59999999999997" font-size="8.1" text-anchor="end" fill="#333" >0</text><text x="167.2" y="342.4" font-size="8.1" text-anchor="end" fill="#333" >5</text><text x="167.2" y="306.19999999999993" font-size="8.1" text-anchor="end" fill="#333" >10</text><text x="167.2" y="269.99999999999994" font-size="8.1" text-anchor="end" fill="#333" >15</text><text x="209.2" y="390.2" font-size="9" text-anchor="middle" fill="#111" >Neutral</text><text x="276.2" y="390.2" font-size="9" text-anchor="middle" fill="#111" >Nicotine</text><text transform="translate(156.4,312.5) rotate(-90)" font-size="9.6" text-anchor="middle" fill="#111">Anterior Insula Activation</text><text x="242.6" y="241.3" font-size="10.3" text-anchor="middle" fill="#111" >Cue Reactivity Task Activation: AI</text><line x1="481.00" y1="365.50" x2="628.80" y2="365.50" stroke="#f7f7f7" stroke-width="1"/><line x1="481.00" y1="341.50" x2="628.80" y2="341.50" stroke="#f7f7f7" stroke-width="1"/><line x1="481.00" y1="317.50" x2="628.80" y2="317.50" stroke="#f7f7f7" stroke-width="1"/><line x1="481.00" y1="293.50" x2="628.80" y2="293.50" stroke="#f7f7f7" stroke-width="1"/><line x1="481.00" y1="269.50" x2="628.80" y2="269.50" stroke="#f7f7f7" stroke-width="1"/><line x1="481.00" y1="377.50" x2="628.80" y2="377.50" stroke="#eeeeee" stroke-width="1"/><line x1="481.00" y1="353.50" x2="628.80" y2="353.50" stroke="#eeeeee" stroke-width="1"/><line x1="481.00" y1="329.50" x2="628.80" y2="329.50" stroke="#eeeeee" stroke-width="1"/><line x1="481.00" y1="305.50" x2="628.80" y2="305.50" stroke="#eeeeee" stroke-width="1"/><line x1="481.00" y1="281.50" x2="628.80" y2="281.50" stroke="#eeeeee" stroke-width="1"/><line x1="481.00" y1="257.50" x2="628.80" y2="257.50" stroke="#eeeeee" stroke-width="1"/><line x1="521.50" y1="244.00" x2="521.50" y2="382.00" stroke="#f0f0f0" stroke-width="1"/><line x1="589.50" y1="244.00" x2="589.50" y2="382.00" stroke="#f0f0f0" stroke-width="1"/><rect x="498.30" y="353.40" width="23.30" height="11.70" fill="#4480d9"/><rect x="521.60" y="353.30" width="23.20" height="1.40" fill="#e98d84"/><rect x="565.20" y="315.30" width="23.80" height="38.10" fill="#4480d9"/><rect x="589.00" y="272.40" width="22.70" height="81.00" fill="#d22b15"/><g stroke="#000" stroke-opacity="0.62"><line x1="509.50" y1="354.80" x2="509.50" y2="375.40" stroke="#000" stroke-width="0.9"/><line x1="506.10" y1="354.80" x2="512.90" y2="354.80" stroke="#000" stroke-width="0.55"/><line x1="506.10" y1="375.40" x2="512.90" y2="375.40" stroke="#000" stroke-width="0.55"/></g><g stroke="#000" stroke-opacity="0.62"><line x1="533.00" y1="336.20" x2="533.00" y2="372.20" stroke="#000" stroke-width="0.9"/><line x1="529.60" y1="336.20" x2="536.40" y2="336.20" stroke="#000" stroke-width="0.55"/><line x1="529.60" y1="372.20" x2="536.40" y2="372.20" stroke="#000" stroke-width="0.55"/></g><g stroke="#000" stroke-opacity="0.62"><line x1="576.60" y1="304.10" x2="576.60" y2="326.20" stroke="#000" stroke-width="0.9"/><line x1="573.20" y1="304.10" x2="580.00" y2="304.10" stroke="#000" stroke-width="0.55"/><line x1="573.20" y1="326.20" x2="580.00" y2="326.20" stroke="#000" stroke-width="0.55"/></g><g stroke="#000" stroke-opacity="0.62"><line x1="600.20" y1="250.60" x2="600.20" y2="293.00" stroke="#000" stroke-width="0.9"/><line x1="596.80" y1="293.00" x2="603.60" y2="293.00" stroke="#000" stroke-width="0.55"/></g><line x1="496.20" y1="250.60" x2="610.20" y2="250.60" stroke="#111" stroke-width="2"/><text x="554" y="255.58" font-size="16.5" text-anchor="middle" fill="#111" >***</text><line x1="526.40" y1="263.50" x2="605.80" y2="263.50" stroke="#d8382a" stroke-width="2"/><text x="566.5" y="267.58" font-size="16.5" text-anchor="middle" fill="#d8382a" >***</text><line x1="498.60" y1="278.00" x2="578.10" y2="278.00" stroke="#4f8be0" stroke-width="2"/><text x="538.6" y="281.78" font-size="16.5" text-anchor="middle" fill="#4f8be0" >***</text><text x="479.3" y="380.29999999999995" font-size="8.1" text-anchor="end" fill="#333" >-5</text><text x="479.3" y="356.29999999999995" font-size="8.1" text-anchor="end" fill="#333" >0</text><text x="479.3" y="332.29999999999995" font-size="8.1" text-anchor="end" fill="#333" >5</text><text x="479.3" y="308.29999999999995" font-size="8.1" text-anchor="end" fill="#333" >10</text><text x="479.3" y="284.29999999999995" font-size="8.1" text-anchor="end" fill="#333" >15</text><text x="479.3" y="260.29999999999995" font-size="8.1" text-anchor="end" fill="#333" >20</text><text x="521.6" y="389.8" font-size="9" text-anchor="middle" fill="#111" >Neutral</text><text x="589" y="389.8" font-size="9" text-anchor="middle" fill="#111" >Nicotine</text><text transform="translate(468.2,313.3) rotate(-90)" font-size="9.5" text-anchor="middle" fill="#111">Default Mode Network Activation</text><text x="555.2" y="241.2" font-size="10.2" text-anchor="middle" fill="#111" >Cue Reactivity Task Activation: DMN</text><rect x="55.40" y="428.60" width="459.20" height="122.20" fill="#4480d9"/><rect x="60.40" y="434.30" width="448.10" height="110.90" fill="#000"/><rect x="55.90" y="553.60" width="458.90" height="122.10" fill="#d22b15"/><rect x="61.00" y="559.80" width="447.60" height="111.00" fill="#000"/><use href="#med" transform="translate(-193.28,217.58) scale(0.867)"/><use href="#cor"/><use href="#ax"/><use href="#med" transform="translate(-193.97,341.86) scale(0.87)"/><use href="#cor" transform="translate(0.6,125.8)"/><use href="#ax" transform="translate(0.4,125.4)"/><g filter="url(#rough)"><path d="M133.8,481.0 L132.9,483.2 L132.3,485.4 L129.9,486.7 L128.7,488.8 L127.0,490.7 L124.3,491.5 L121.6,493.0 L118.5,492.7 L116.1,490.7 L113.9,489.5 L111.4,488.7 L108.9,487.5 L108.0,485.3 L107.4,483.1 L107.0,481.0 L107.7,478.9 L107.6,476.6 L108.1,474.1 L109.9,472.0 L113.0,471.3 L116.2,471.5 L118.8,472.0 L121.2,471.8 L123.8,471.6 L126.6,471.8 L130.1,472.0 L131.8,474.2 L132.9,476.4 L132.7,478.8 Z" fill="#ef7a1a" filter="url(#bl04)"/><path d="M129.6,482.0 L129.5,483.7 L129.5,485.5 L128.0,486.9 L126.0,487.8 L123.9,488.4 L121.9,488.6 L119.9,488.6 L118.1,488.7 L116.1,488.6 L114.3,488.1 L112.6,487.4 L111.1,486.3 L110.5,484.8 L109.6,483.5 L107.8,482.0 L107.3,480.1 L107.9,478.3 L110.4,477.3 L113.0,477.0 L114.7,476.4 L116.3,475.8 L118.0,474.9 L120.1,474.5 L121.9,475.4 L123.4,476.3 L125.7,476.4 L127.5,477.4 L128.7,478.8 L129.5,480.3 Z" fill="#f59424" filter="url(#bl07)"/><path d="M121.8,483.5 L121.2,484.4 L121.1,485.3 L120.4,486.1 L119.8,487.0 L118.7,487.4 L117.8,488.1 L116.6,488.4 L115.4,488.1 L114.3,487.9 L113.3,487.3 L112.8,486.4 L111.6,486.1 L110.8,485.4 L110.4,484.5 L110.6,483.5 L110.5,482.5 L111.3,481.8 L111.7,481.0 L112.3,480.2 L113.2,479.5 L114.2,478.9 L115.4,478.8 L116.6,478.5 L117.8,479.0 L118.9,479.4 L119.6,480.2 L120.0,481.1 L120.7,481.8 L121.2,482.6 Z" fill="#fbc232" filter="url(#bl07)"/><path d="M144.9,479.5 L144.4,480.2 L143.7,480.7 L143.0,481.2 L142.2,481.7 L141.4,482.2 L140.3,482.5 L139.2,482.9 L137.8,483.0 L136.6,482.6 L135.6,482.1 L134.7,481.8 L133.6,481.4 L132.4,480.9 L132.0,480.2 L132.9,479.5 L133.0,478.9 L133.2,478.2 L133.3,477.5 L134.2,476.9 L135.4,476.6 L136.9,476.8 L137.9,476.6 L139.1,476.4 L140.4,476.4 L141.6,476.7 L142.8,477.0 L143.4,477.6 L144.3,478.1 L144.9,478.8 Z" fill="#ef7a1a" filter="url(#bl04)"/><path d="M136.3,474.0 L136.2,474.6 L136.1,475.2 L135.3,475.6 L134.6,475.8 L134.1,476.1 L133.5,476.3 L132.9,476.6 L132.1,476.6 L131.4,476.6 L130.8,476.3 L130.3,475.8 L129.7,475.5 L129.8,474.9 L129.5,474.5 L129.4,474.0 L129.2,473.5 L129.0,472.8 L129.7,472.5 L130.3,472.1 L130.6,471.5 L131.3,471.1 L132.1,471.1 L132.9,471.2 L133.5,471.7 L134.0,472.0 L134.4,472.4 L135.1,472.6 L135.4,473.0 L135.9,473.4 Z" fill="#ef7a1a" filter="url(#bl04)"/><path d="M197.7,498.8 L198.7,501.7 L197.6,504.3 L195.2,506.2 L193.2,508.0 L191.2,510.0 L188.5,510.8 L185.8,511.8 L182.9,511.4 L180.6,509.3 L178.2,508.6 L176.2,507.1 L174.1,505.7 L173.2,503.4 L172.1,501.2 L170.1,498.8 L169.9,495.9 L171.0,493.3 L173.0,491.1 L174.9,489.1 L177.1,487.2 L180.3,487.3 L183.0,486.9 L185.5,488.0 L187.8,488.8 L190.7,488.5 L192.9,489.9 L195.4,491.3 L196.5,493.7 L197.0,496.3 Z" fill="#ef7a1a" filter="url(#bl04)"/><path d="M195.4,499.0 L194.8,500.7 L194.3,502.3 L193.6,503.9 L191.8,504.7 L190.4,505.8 L188.8,506.8 L187.0,507.6 L185.0,507.5 L183.0,507.2 L180.8,507.1 L179.5,505.4 L177.6,504.5 L177.3,502.5 L177.2,500.7 L177.4,499.0 L177.4,497.4 L177.2,495.5 L178.4,494.1 L179.3,492.3 L180.9,491.1 L183.1,490.9 L185.0,490.9 L186.9,491.7 L188.5,492.0 L190.4,492.2 L192.6,492.4 L194.2,493.6 L195.4,495.3 L196.2,497.1 Z" fill="#f39022" filter="url(#bl07)"/><path d="M193.5,498.5 L193.2,499.4 L192.8,500.2 L192.8,501.3 L191.9,501.9 L191.0,502.4 L189.9,502.5 L189.0,502.6 L188.0,502.6 L187.0,502.7 L186.1,502.3 L185.2,501.8 L184.4,501.2 L183.6,500.5 L184.0,499.4 L183.5,498.5 L183.5,497.5 L183.5,496.5 L184.3,495.8 L185.2,495.2 L186.2,495.0 L187.0,494.3 L187.9,493.6 L189.1,493.6 L190.0,494.4 L190.6,495.2 L191.7,495.3 L192.6,495.8 L193.3,496.6 L194.0,497.5 Z" fill="#f8ac2c" filter="url(#bl07)"/><path d="M301.3,495.0 L300.9,496.2 L300.1,497.3 L298.8,497.6 L297.5,497.3 L296.5,496.3 L296.4,495.0 L296.6,493.7 L297.6,492.9 L298.8,492.2 L300.1,492.7 L301.1,493.7 Z" fill="#ef7a1a" filter="url(#bl04)"/><path d="M441.2,451.0 L441.2,451.9 L440.7,452.7 L439.4,453.2 L439.1,454.1 L437.9,454.6 L436.6,455.0 L435.3,455.5 L433.7,455.9 L432.0,455.7 L430.6,455.2 L429.7,454.3 L429.4,453.3 L428.6,452.6 L428.1,451.8 L427.7,451.0 L427.6,450.1 L428.0,449.2 L428.8,448.5 L430.1,448.0 L431.1,447.4 L432.6,447.3 L433.8,446.7 L435.4,446.0 L436.9,446.5 L438.1,447.1 L439.0,447.9 L439.7,448.7 L441.1,449.2 L441.9,450.0 Z" fill="#f38c1e" filter="url(#bl07)"/><path d="M446.1,509.3 L446.8,511.0 L446.6,512.7 L446.6,514.9 L445.4,516.6 L443.4,517.5 L441.7,519.2 L439.3,519.1 L437.2,518.2 L435.2,517.6 L433.6,516.5 L432.1,515.4 L430.7,514.3 L430.4,512.4 L429.5,511.0 L428.5,509.3 L428.5,507.4 L428.8,505.5 L430.4,504.1 L431.6,502.7 L433.4,501.8 L435.1,500.7 L437.2,500.5 L439.2,500.3 L441.3,500.5 L443.6,500.9 L446.0,501.4 L446.9,503.5 L446.7,505.9 L446.4,507.7 Z" fill="#ef7a1a" filter="url(#bl04)"/><path d="M444.7,508.5 L444.9,509.9 L444.2,511.0 L443.4,512.1 L442.1,512.7 L441.5,514.1 L440.1,514.6 L438.8,515.7 L437.3,515.0 L435.8,514.7 L434.8,513.7 L433.7,513.0 L432.5,512.2 L432.6,510.7 L432.4,509.6 L431.6,508.5 L431.4,507.2 L431.6,505.9 L431.6,504.2 L432.8,503.2 L434.5,502.9 L435.8,502.2 L437.3,502.3 L438.7,502.6 L440.0,502.9 L441.0,503.6 L442.6,503.8 L443.3,504.9 L444.0,506.0 L444.7,507.2 Z" fill="#f7a126" filter="url(#bl07)"/><path d="M439.0,507.0 L438.7,507.7 L438.5,508.3 L438.3,508.9 L438.1,509.6 L437.5,509.9 L436.8,509.8 L436.3,509.9 L435.7,509.9 L435.1,510.2 L434.5,510.0 L434.0,509.5 L433.7,508.9 L433.4,508.3 L433.1,507.7 L433.2,507.0 L433.5,506.4 L433.6,505.8 L433.8,505.2 L434.0,504.4 L434.5,504.0 L435.1,503.8 L435.7,503.7 L436.3,503.7 L436.9,504.0 L437.3,504.5 L437.7,504.8 L438.1,505.3 L438.6,505.7 L438.9,506.3 Z" fill="#fdd236" filter="url(#bl04)"/><path d="M444.0,507.5 L444.2,508.2 L443.9,508.8 L443.5,509.2 L443.2,509.7 L442.6,509.9 L442.2,510.2 L441.8,510.6 L441.2,510.6 L440.7,510.3 L440.2,510.1 L439.8,509.8 L439.5,509.2 L439.1,508.8 L439.1,508.1 L439.1,507.5 L439.3,507.0 L439.5,506.4 L439.4,505.7 L439.8,505.2 L440.0,504.5 L440.6,504.3 L441.2,504.4 L441.8,504.5 L442.2,504.8 L442.6,505.2 L443.2,505.3 L443.6,505.7 L443.7,506.3 L443.8,506.9 Z" fill="#fdd236" filter="url(#bl04)"/><path d="M417.9,509.5 L417.5,511.3 L416.4,512.7 L414.8,513.3 L413.9,514.1 L413.1,515.0 L412.4,516.5 L411.2,517.2 L409.8,517.5 L408.6,516.6 L407.4,516.1 L406.8,514.4 L406.2,513.3 L404.8,512.6 L403.5,511.3 L403.3,509.5 L403.7,507.7 L405.0,506.5 L405.6,505.2 L406.1,503.6 L407.2,502.6 L408.7,502.6 L409.9,502.8 L411.1,503.0 L412.2,503.3 L413.6,502.9 L414.4,504.2 L415.4,505.2 L416.3,506.4 L417.9,507.6 Z" fill="#f28a1c" filter="url(#bl07)"/><path d="M469.6,513.5 L469.6,514.7 L469.9,516.2 L469.2,517.3 L468.6,518.6 L467.6,519.5 L466.3,519.6 L465.2,520.5 L463.8,520.5 L462.6,520.1 L461.7,518.9 L460.7,518.2 L459.9,517.2 L459.5,516.0 L459.1,514.8 L458.9,513.5 L459.0,512.2 L459.0,510.8 L459.9,509.7 L460.7,508.7 L461.6,507.9 L462.7,507.1 L463.9,507.3 L465.1,507.3 L466.5,506.6 L467.8,507.2 L468.8,508.1 L469.3,509.6 L469.4,511.1 L469.4,512.3 Z" fill="#f4941e" filter="url(#bl07)"/><path d="M467.6,513.0 L467.4,513.6 L467.3,514.2 L467.0,514.7 L466.8,515.4 L466.4,515.9 L465.8,516.0 L465.3,516.2 L464.7,515.9 L464.2,515.9 L463.7,515.7 L463.5,515.0 L463.2,514.6 L463.0,514.0 L462.7,513.6 L462.6,513.0 L462.2,512.3 L462.1,511.5 L462.5,510.9 L463.2,510.6 L463.9,510.7 L464.3,510.4 L464.8,510.4 L465.3,510.0 L465.7,510.3 L466.3,510.3 L466.7,510.7 L467.1,511.2 L467.2,511.8 L467.4,512.4 Z" fill="#f9b52a" filter="url(#bl04)"/><path d="M150.5,606.0 L148.5,607.3 L146.0,608.3 L144.3,609.3 L143.1,610.4 L140.6,611.2 L138.3,612.0 L136.6,613.8 L133.0,614.5 L129.0,614.3 L125.2,614.0 L121.9,613.3 L118.1,613.1 L117.2,611.3 L114.6,610.5 L112.4,609.6 L113.8,608.1 L112.0,607.1 L110.9,606.0 L108.9,604.7 L110.5,603.5 L111.0,602.1 L112.9,600.9 L116.0,600.2 L118.2,599.0 L121.6,598.4 L125.5,598.5 L129.0,599.0 L132.5,598.5 L135.8,599.0 L138.8,599.7 L141.2,600.5 L145.1,600.9 L147.3,602.0 L149.0,603.3 L149.5,604.6 Z" fill="#f2a024" filter="url(#bl07)"/><path d="M122.2,606.5 L122.8,608.4 L121.5,609.9 L120.6,611.5 L119.8,613.1 L118.0,613.6 L116.4,614.0 L114.8,614.4 L113.1,614.9 L111.6,614.0 L110.2,613.2 L108.9,612.3 L107.7,611.2 L107.1,609.7 L107.2,608.0 L107.1,606.5 L107.8,605.1 L107.5,603.5 L107.2,601.4 L107.6,599.2 L109.5,598.5 L111.4,598.2 L113.2,598.8 L114.8,598.7 L116.4,599.0 L117.9,599.6 L118.7,601.1 L118.8,602.9 L119.7,603.9 L120.8,605.0 Z" fill="#f7a126" filter="url(#bl07)"/><path d="M116.1,606.8 L116.3,607.6 L116.5,608.6 L116.1,609.4 L115.7,610.4 L114.6,610.5 L113.8,610.7 L112.9,610.8 L112.0,611.5 L111.1,611.2 L110.3,610.6 L109.9,609.7 L109.6,608.9 L108.8,608.5 L108.0,607.8 L108.0,606.8 L107.8,605.8 L108.6,605.1 L109.2,604.4 L109.6,603.6 L110.5,603.3 L111.1,602.6 L112.1,602.6 L113.0,602.5 L113.8,602.7 L114.7,603.0 L115.4,603.6 L115.9,604.3 L116.6,605.0 L116.3,606.0 Z" fill="#ffe83c" filter="url(#bl07)"/><path d="M142.1,608.5 L140.0,609.6 L139.6,610.6 L139.3,611.9 L137.8,612.7 L135.9,613.2 L133.7,613.1 L131.8,613.0 L129.9,614.1 L127.7,614.2 L125.8,613.6 L124.3,612.7 L122.3,612.0 L120.9,611.0 L119.4,609.9 L119.7,608.5 L120.5,607.3 L122.2,606.3 L123.3,605.3 L124.8,604.6 L126.7,604.3 L128.1,603.5 L130.0,603.4 L132.1,602.8 L134.3,602.8 L136.0,603.6 L137.4,604.5 L140.0,604.8 L141.9,605.8 L142.1,607.2 Z" fill="#f7a126" filter="url(#bl07)"/><path d="M141.2,599.0 L140.8,600.0 L139.7,600.8 L139.0,601.6 L138.3,602.5 L136.9,602.8 L135.5,603.1 L134.2,603.2 L132.9,603.0 L131.6,602.8 L129.9,603.1 L128.6,602.6 L127.4,601.9 L127.0,600.9 L126.6,600.0 L126.9,599.0 L126.2,598.0 L126.4,596.9 L126.9,595.8 L128.1,595.1 L129.9,594.9 L131.5,595.0 L132.9,594.9 L134.1,595.0 L135.3,595.3 L136.4,595.7 L137.9,595.8 L139.2,596.3 L140.5,596.9 L141.4,597.9 Z" fill="#f39822" filter="url(#bl07)"/><path d="M154.4,605.5 L154.5,606.5 L153.9,607.4 L153.3,608.3 L152.1,608.9 L150.5,609.0 L149.3,609.4 L148.0,609.8 L146.6,609.6 L145.4,609.2 L144.2,608.9 L142.9,608.6 L142.4,607.8 L141.3,607.2 L140.7,606.4 L140.8,605.5 L140.6,604.6 L140.9,603.7 L141.5,602.8 L142.6,602.2 L143.7,601.5 L145.1,601.3 L146.6,601.5 L148.0,601.4 L149.1,602.0 L150.2,602.3 L151.5,602.5 L152.6,603.1 L153.3,603.8 L154.1,604.6 Z" fill="#f6a828" filter="url(#bl07)"/><path d="M132.0,608.0 L132.0,608.6 L131.6,609.2 L131.4,609.8 L130.8,610.3 L129.9,610.5 L129.2,610.8 L128.4,610.9 L127.6,611.2 L126.7,610.9 L126.0,610.6 L125.4,610.2 L125.1,609.6 L124.5,609.2 L124.3,608.6 L124.3,608.0 L123.8,607.3 L123.9,606.6 L124.3,606.0 L125.1,605.6 L126.0,605.4 L127.0,605.6 L127.6,605.4 L128.4,605.4 L129.1,605.4 L130.1,605.3 L130.6,605.8 L131.3,606.2 L132.0,606.7 L131.9,607.4 Z" fill="#ffd23a" filter="url(#bl07)"/><path d="M151.1,604.5 L151.1,605.0 L150.8,605.4 L150.2,605.7 L149.9,606.1 L149.4,606.3 L149.0,606.6 L148.3,606.6 L147.7,606.7 L147.1,606.4 L146.6,606.3 L145.8,606.3 L145.1,606.0 L144.8,605.6 L145.0,605.0 L145.0,604.5 L145.3,604.1 L145.1,603.5 L145.6,603.2 L146.2,603.0 L146.8,603.0 L147.2,602.8 L147.7,602.5 L148.3,602.1 L149.0,602.2 L149.6,602.4 L150.2,602.7 L150.5,603.1 L151.0,603.5 L151.0,604.0 Z" fill="#ffd23a" filter="url(#bl04)"/><path d="M118.4,617.4 L118.0,618.3 L117.2,618.9 L116.1,619.2 L115.6,618.2 L115.2,617.4 L115.2,616.3 L116.2,615.8 L117.2,615.9 L118.0,616.5 Z" fill="#ef7a1a" filter="url(#bl04)"/><path d="M199.3,623.5 L198.5,625.3 L197.0,626.8 L195.9,628.3 L194.5,629.8 L193.5,632.0 L190.8,632.3 L188.4,633.2 L185.8,632.2 L183.0,632.8 L180.5,631.9 L178.2,630.8 L177.0,629.0 L176.9,626.9 L176.2,625.2 L174.7,623.5 L174.9,621.6 L175.7,619.7 L176.4,617.7 L178.6,616.5 L181.0,615.7 L183.2,614.8 L185.7,614.2 L188.2,615.1 L190.4,615.6 L193.0,615.8 L195.1,616.8 L197.3,617.9 L198.3,619.7 L200.1,621.4 Z" fill="#f6ad2a" filter="url(#bl07)"/><path d="M195.8,623.0 L195.2,623.9 L195.1,624.9 L194.1,625.6 L193.8,626.7 L193.0,627.6 L191.9,628.5 L190.3,628.7 L188.8,628.3 L187.4,628.0 L186.1,627.5 L184.7,627.1 L183.8,626.2 L183.5,625.1 L183.0,624.1 L183.3,623.0 L183.2,622.0 L183.5,621.0 L183.9,619.9 L184.7,618.9 L186.2,618.6 L187.5,618.2 L188.8,618.0 L190.2,617.9 L191.7,617.9 L193.1,618.2 L194.6,618.7 L195.8,619.5 L196.0,620.8 L196.7,621.8 Z" fill="#ffe83c" filter="url(#bl07)"/><path d="M293.4,591.4 L293.3,592.8 L291.9,593.6 L290.3,594.1 L288.7,595.0 L286.8,594.7 L285.2,593.9 L283.6,592.9 L283.9,591.4 L284.5,590.2 L285.4,589.1 L287.0,588.5 L288.7,588.0 L290.6,588.1 L292.4,588.8 L293.6,590.0 Z" fill="#f59a1e" filter="url(#bl07)"/><path d="M322.1,596.8 L321.8,598.0 L321.0,598.8 L320.0,598.7 L319.2,598.1 L318.8,596.8 L319.3,595.7 L320.0,594.9 L321.0,594.7 L321.8,595.6 Z" fill="#f59a1e" filter="url(#bl04)"/><path d="M431.2,575.5 L431.1,576.5 L429.4,576.9 L428.0,577.2 L426.3,577.1 L425.2,576.4 L425.2,575.5 L425.0,574.5 L426.4,574.0 L428.0,573.5 L429.6,573.9 L430.7,574.6 Z" fill="#f6a024" filter="url(#bl04)"/><path d="M449.0,578.5 L448.6,579.4 L447.7,580.1 L446.4,579.9 L445.5,579.3 L445.1,578.5 L445.2,577.5 L446.4,577.1 L447.6,577.1 L448.5,577.7 Z" fill="#f6a024" filter="url(#bl04)"/><path d="M438.9,617.5 L438.8,618.5 L437.9,618.9 L437.0,619.1 L436.2,618.5 L436.1,617.5 L436.4,616.7 L437.0,615.7 L437.9,616.2 L438.7,616.6 Z" fill="#f6a024" filter="url(#bl04)"/><path d="M439.2,623.5 L438.9,624.8 L438.2,625.6 L437.3,625.9 L436.4,625.6 L435.8,624.6 L435.4,623.5 L435.9,622.4 L436.2,621.1 L437.3,621.1 L438.1,621.6 L438.6,622.5 Z" fill="#f6a024" filter="url(#bl04)"/><path d="M444.9,635.0 L445.1,638.4 L443.9,640.8 L442.5,641.8 L441.5,642.8 L440.6,644.4 L439.5,644.8 L438.2,646.0 L436.9,645.4 L436.1,642.8 L435.7,640.0 L435.2,637.6 L434.7,635.0 L434.9,632.2 L435.7,630.0 L436.3,627.6 L437.3,626.1 L438.2,623.6 L439.5,624.4 L440.7,624.9 L441.5,627.0 L442.5,628.1 L442.8,630.6 L444.3,632.0 Z" fill="#f4a626" filter="url(#bl07)"/><path d="M446.3,642.0 L446.5,643.5 L445.3,644.5 L443.7,645.1 L442.0,645.5 L440.2,645.3 L438.8,644.5 L437.9,643.3 L437.3,642.0 L437.8,640.7 L438.9,639.6 L440.3,638.9 L442.0,638.4 L443.8,638.6 L445.2,639.5 L446.0,640.7 Z" fill="#f4a626" filter="url(#bl07)"/><path d="M441.1,631.0 L440.8,632.6 L439.8,633.4 L438.8,633.3 L437.5,634.0 L436.8,632.6 L436.4,631.0 L436.9,629.5 L437.7,628.3 L438.8,628.3 L439.8,628.5 L440.8,629.4 Z" fill="#ffd838" filter="url(#bl04)"/><path d="M442.9,640.0 L442.9,641.6 L441.7,642.5 L440.5,642.8 L439.1,642.7 L438.4,641.4 L437.9,640.0 L438.1,638.4 L439.2,637.5 L440.5,637.1 L441.9,637.2 L442.8,638.5 Z" fill="#ffd838" filter="url(#bl04)"/><path d="M412.7,637.9 L413.4,639.6 L411.6,640.5 L410.1,641.0 L408.4,641.3 L407.0,640.5 L405.8,639.4 L405.8,637.9 L405.3,636.2 L407.0,635.3 L408.5,634.7 L410.1,634.7 L411.6,635.3 L412.9,636.4 Z" fill="#f39620" filter="url(#bl07)"/><path d="M469.9,638.3 L469.9,640.2 L468.5,641.7 L466.4,642.1 L464.6,642.8 L462.5,642.8 L460.4,642.0 L459.9,640.0 L459.3,638.3 L459.3,636.4 L461.3,635.4 L462.6,634.0 L464.6,633.6 L466.7,633.8 L468.8,634.6 L469.6,636.5 Z" fill="#f7b02a" filter="url(#bl07)"/><path d="M468.3,638.0 L467.5,639.2 L466.4,640.0 L465.0,640.1 L463.4,640.3 L462.4,639.3 L462.0,638.0 L462.0,636.6 L463.6,636.0 L465.0,635.9 L466.6,635.7 L467.6,636.7 Z" fill="#ffe23a" filter="url(#bl04)"/></g><text x="532.2" y="523.9" font-size="20.2" text-anchor="start" fill="#111" >Group</text><rect x="532.30" y="532.70" width="16.10" height="17.00" fill="#4480d9"/><rect x="532.30" y="552.40" width="16.10" height="17.20" fill="#d22b15"/><text x="555.8" y="548.5" font-size="20.2" text-anchor="start" fill="#111" >Smoking</text><text x="555.8" y="567.8" font-size="20.2" text-anchor="start" fill="#111" >Vaping</text></svg>
</body></html>
